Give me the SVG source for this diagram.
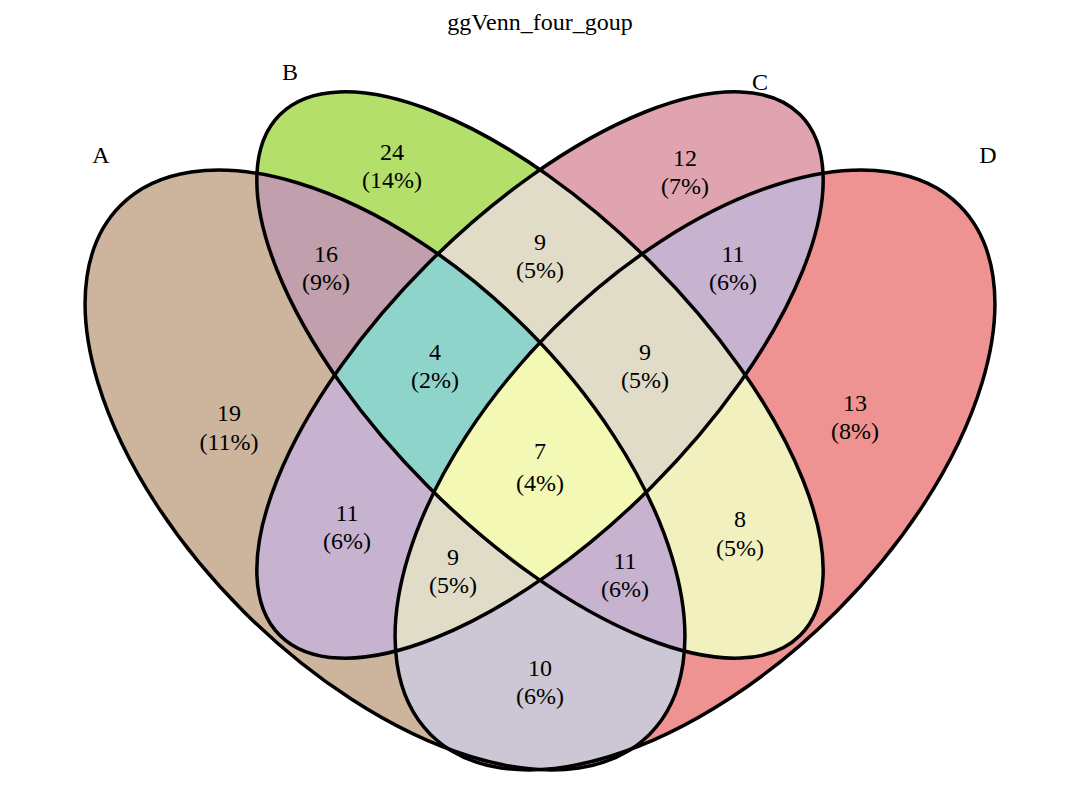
<svg xmlns="http://www.w3.org/2000/svg" xmlns:xlink="http://www.w3.org/1999/xlink" width="1080" height="810" viewBox="0 0 1080 810">
<style>
text{font-family:"Liberation Serif","Times New Roman",serif;font-size:24px;fill:#000;text-anchor:middle}
.o{fill:none;stroke:#000;stroke-width:3.5}
</style>
<defs>
<ellipse id="eA" cx="385" cy="470" rx="374" ry="200" transform="rotate(45 385 470)"/>
<ellipse id="eD" cx="695" cy="470" rx="374" ry="200" transform="rotate(-45 695 470)"/>
<ellipse id="eB" cx="540" cy="375" rx="368" ry="158" transform="rotate(45 540 375)"/>
<ellipse id="eC" cx="540" cy="375" rx="368" ry="158" transform="rotate(-45 540 375)"/>
<clipPath id="cA"><use xlink:href="#eA"/></clipPath>
<clipPath id="cB"><use xlink:href="#eB"/></clipPath>
<clipPath id="cC"><use xlink:href="#eC"/></clipPath>
<clipPath id="cD"><use xlink:href="#eD"/></clipPath>
</defs>
<rect width="1080" height="810" fill="#fff"/>
<g id="fills">
<use xlink:href="#eA" fill="#CDB49C"/>
<use xlink:href="#eD" fill="#EE9391"/>
<use xlink:href="#eB" fill="#B4DF6B"/>
<use xlink:href="#eC" fill="#DFA4AF"/>
<g clip-path="url(#cA)"><use xlink:href="#eB" fill="#C29FAC"/></g>
<g clip-path="url(#cB)"><use xlink:href="#eC" fill="#E0DCC8"/></g>
<g clip-path="url(#cC)"><use xlink:href="#eD" fill="#C7B3D0"/></g>
<g clip-path="url(#cA)"><use xlink:href="#eC" fill="#C7B3D0"/></g>
<g clip-path="url(#cB)"><use xlink:href="#eD" fill="#F2F0BF"/></g>
<g clip-path="url(#cA)"><use xlink:href="#eD" fill="#CDC7D5"/></g>
<g clip-path="url(#cA)"><g clip-path="url(#cB)"><use xlink:href="#eC" fill="#8FD4CA"/></g></g>
<g clip-path="url(#cB)"><g clip-path="url(#cC)"><use xlink:href="#eD" fill="#E0DCC8"/></g></g>
<g clip-path="url(#cA)"><g clip-path="url(#cC)"><use xlink:href="#eD" fill="#E0DCC8"/></g></g>
<g clip-path="url(#cA)"><g clip-path="url(#cB)"><use xlink:href="#eD" fill="#C7B3D0"/></g></g>
<g clip-path="url(#cA)"><g clip-path="url(#cB)"><g clip-path="url(#cC)"><use xlink:href="#eD" fill="#F3F9B5"/></g></g></g>
</g>
<g id="outlines">
<use xlink:href="#eA" class="o"/>
<use xlink:href="#eD" class="o"/>
<use xlink:href="#eB" class="o"/>
<use xlink:href="#eC" class="o"/>
</g>
<text x="540" y="30">ggVenn_four_goup</text>
<text x="101" y="163">A</text>
<text x="290" y="80">B</text>
<text x="760" y="90">C</text>
<text x="988" y="163">D</text>
<g id="counts">
<text x="392" y="160">24</text><text x="392" y="188">(14%)</text>
<text x="685" y="166">12</text><text x="685" y="194">(7%)</text>
<text x="326" y="262">16</text><text x="326" y="290">(9%)</text>
<text x="540" y="250">9</text><text x="540" y="278">(5%)</text>
<text x="733" y="262">11</text><text x="733" y="290">(6%)</text>
<text x="435" y="360">4</text><text x="435" y="388">(2%)</text>
<text x="645" y="360">9</text><text x="645" y="388">(5%)</text>
<text x="229" y="421">19</text><text x="229" y="450">(11%)</text>
<text x="855" y="411">13</text><text x="855" y="439">(8%)</text>
<text x="540" y="459">7</text><text x="540" y="491">(4%)</text>
<text x="347" y="521">11</text><text x="347" y="549">(6%)</text>
<text x="740" y="527">8</text><text x="740" y="556">(5%)</text>
<text x="453" y="565">9</text><text x="453" y="593">(5%)</text>
<text x="625" y="569">11</text><text x="625" y="597">(6%)</text>
<text x="540" y="676">10</text><text x="540" y="704">(6%)</text>
</g>
</svg>
